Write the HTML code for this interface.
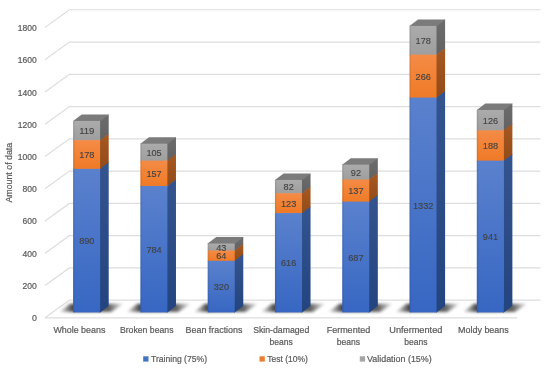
<!DOCTYPE html><html><head><meta charset="utf-8"><style>html,body{margin:0;padding:0;background:#fff;overflow:hidden;width:550px;height:370px}svg{display:block}text{font-family:"Liberation Sans",sans-serif}</style></head><body>
<svg width="550" height="370" viewBox="0 0 550 370">
<defs><filter id="sh" x="-30%" y="-100%" width="160%" height="300%"><feGaussianBlur stdDeviation="1.4"/></filter><linearGradient id="shg" x1="0" x2="1" y1="0" y2="0"><stop offset="0" stop-color="#000" stop-opacity="0.05"/><stop offset="0.22" stop-color="#000" stop-opacity="0.75"/><stop offset="0.77" stop-color="#000" stop-opacity="0.62"/><stop offset="1" stop-color="#000" stop-opacity="0.04"/></linearGradient><linearGradient id="bF" x1="0" x2="0" y1="0" y2="1"><stop offset="0" stop-color="#5a81cd"/><stop offset="1" stop-color="#3767c3"/></linearGradient><linearGradient id="bS" x1="0" x2="0" y1="0" y2="1"><stop offset="0" stop-color="#34548f"/><stop offset="1" stop-color="#24447f"/></linearGradient><linearGradient id="oF" x1="0" x2="0" y1="0" y2="1"><stop offset="0" stop-color="#f48b46"/><stop offset="1" stop-color="#ef7a26"/></linearGradient><linearGradient id="oS" x1="0" x2="0" y1="0" y2="1"><stop offset="0" stop-color="#a65821"/><stop offset="1" stop-color="#924b18"/></linearGradient><linearGradient id="gF" x1="0" x2="0" y1="0" y2="1"><stop offset="0" stop-color="#ababab"/><stop offset="1" stop-color="#9e9e9e"/></linearGradient><linearGradient id="gS" x1="0" x2="0" y1="0" y2="1"><stop offset="0" stop-color="#6c6c6c"/><stop offset="1" stop-color="#626262"/></linearGradient></defs>
<rect width="550" height="370" fill="#fff"/>
<g fill="none" stroke="#dddddd" stroke-width="1.2"><polyline points="45,317.8 69.4,300.2 540.4,300.2"/><polyline points="45,285.53 69.4,267.93 540.4,267.93"/><polyline points="45,253.26 69.4,235.66 540.4,235.66"/><polyline points="45,220.99 69.4,203.39 540.4,203.39"/><polyline points="45,188.72 69.4,171.12 540.4,171.12"/><polyline points="45,156.45 69.4,138.85 540.4,138.85"/><polyline points="45,124.18 69.4,106.58 540.4,106.58"/><polyline points="45,91.91 69.4,74.31 540.4,74.31"/><polyline points="45,59.64 69.4,42.04 540.4,42.04"/><polyline points="45,27.37 69.4,9.77 540.4,9.77"/><line x1="45" y1="317.8" x2="517" y2="317.8"/></g>
<g fill="url(#shg)" filter="url(#sh)"><polygon points="59.1,312.1 111.1,312.1 123.7,303.8 70.1,303.8"/><polygon points="126.38,312.1 178.38,312.1 190.98,303.8 137.38,303.8"/><polygon points="193.66,312.1 245.66,312.1 258.26,303.8 204.66,303.8"/><polygon points="260.94,312.1 312.94,312.1 325.54,303.8 271.94,303.8"/><polygon points="328.22,312.1 380.22,312.1 392.82,303.8 339.22,303.8"/><polygon points="395.5,312.1 447.5,312.1 460.1,303.8 406.5,303.8"/><polygon points="462.78,312.1 514.78,312.1 527.38,303.8 473.78,303.8"/></g>
<g><polygon points="73.1,121.54 73.1,120.94 81.7,114.44 108.7,114.44 108.7,115.04 100.1,121.54" fill="#7b7b7b"/><polygon points="99.5,140.73 100.1,140.73 108.7,134.23 108.7,114.44 100.1,120.94 99.5,120.94" fill="url(#gS)"/><polygon points="99.5,169.44 100.1,169.44 108.7,162.94 108.7,133.63 100.1,140.13 99.5,140.13" fill="url(#oS)"/><polygon points="99.5,312.4 100.1,312.4 108.7,305.9 108.7,162.34 100.1,168.84 99.5,168.84" fill="url(#bS)"/><rect x="73.1" y="120.94" width="27" height="19.79" fill="url(#gF)"/><rect x="73.1" y="140.13" width="27" height="29.31" fill="url(#oF)"/><rect x="73.1" y="168.84" width="27" height="143.56" fill="url(#bF)"/><rect x="73.1" y="120.94" width="1.6" height="191.46" fill="#000" opacity="0.07"/><polygon points="140.38,144.28 140.38,143.68 148.98,137.18 175.98,137.18 175.98,137.78 167.38,144.28" fill="#7b7b7b"/><polygon points="166.78,161.22 167.38,161.22 175.98,154.72 175.98,137.18 167.38,143.68 166.78,143.68" fill="url(#gS)"/><polygon points="166.78,186.54 167.38,186.54 175.98,180.04 175.98,154.12 167.38,160.62 166.78,160.62" fill="url(#oS)"/><polygon points="166.78,312.4 167.38,312.4 175.98,305.9 175.98,179.44 167.38,185.94 166.78,185.94" fill="url(#bS)"/><rect x="140.38" y="143.68" width="27" height="17.54" fill="url(#gF)"/><rect x="140.38" y="160.62" width="27" height="25.92" fill="url(#oF)"/><rect x="140.38" y="185.94" width="27" height="126.46" fill="url(#bF)"/><rect x="140.38" y="143.68" width="1.6" height="168.72" fill="#000" opacity="0.07"/><polygon points="207.66,244.12 207.66,243.52 216.26,237.02 243.26,237.02 243.26,237.62 234.66,244.12" fill="#7b7b7b"/><polygon points="234.06,251.06 234.66,251.06 243.26,244.56 243.26,237.02 234.66,243.52 234.06,243.52" fill="url(#gS)"/><polygon points="234.06,261.38 234.66,261.38 243.26,254.88 243.26,243.96 234.66,250.46 234.06,250.46" fill="url(#oS)"/><polygon points="234.06,312.4 234.66,312.4 243.26,305.9 243.26,254.28 234.66,260.78 234.06,260.78" fill="url(#bS)"/><rect x="207.66" y="243.52" width="27" height="7.54" fill="url(#gF)"/><rect x="207.66" y="250.46" width="27" height="10.92" fill="url(#oF)"/><rect x="207.66" y="260.78" width="27" height="51.62" fill="url(#bF)"/><rect x="207.66" y="243.52" width="1.6" height="68.88" fill="#000" opacity="0.07"/><polygon points="274.94,180.57 274.94,179.97 283.54,173.47 310.54,173.47 310.54,174.07 301.94,180.57" fill="#7b7b7b"/><polygon points="301.34,193.8 301.94,193.8 310.54,187.3 310.54,173.47 301.94,179.97 301.34,179.97" fill="url(#gS)"/><polygon points="301.34,213.64 301.94,213.64 310.54,207.14 310.54,186.7 301.94,193.2 301.34,193.2" fill="url(#oS)"/><polygon points="301.34,312.4 301.94,312.4 310.54,305.9 310.54,206.54 301.94,213.04 301.34,213.04" fill="url(#bS)"/><rect x="274.94" y="179.97" width="27" height="13.83" fill="url(#gF)"/><rect x="274.94" y="193.2" width="27" height="20.44" fill="url(#oF)"/><rect x="274.94" y="213.04" width="27" height="99.36" fill="url(#bF)"/><rect x="274.94" y="179.97" width="1.6" height="132.43" fill="#000" opacity="0.07"/><polygon points="342.22,165.25 342.22,164.65 350.82,158.15 377.82,158.15 377.82,158.75 369.22,165.25" fill="#7b7b7b"/><polygon points="368.62,180.09 369.22,180.09 377.82,173.59 377.82,158.15 369.22,164.65 368.62,164.65" fill="url(#gS)"/><polygon points="368.62,202.19 369.22,202.19 377.82,195.69 377.82,172.99 369.22,179.49 368.62,179.49" fill="url(#oS)"/><polygon points="368.62,312.4 369.22,312.4 377.82,305.9 377.82,195.09 369.22,201.59 368.62,201.59" fill="url(#bS)"/><rect x="342.22" y="164.65" width="27" height="15.44" fill="url(#gF)"/><rect x="342.22" y="179.49" width="27" height="22.7" fill="url(#oF)"/><rect x="342.22" y="201.59" width="27" height="110.81" fill="url(#bF)"/><rect x="342.22" y="164.65" width="1.6" height="147.75" fill="#000" opacity="0.07"/><polygon points="409.5,26.53 409.5,25.93 418.1,19.43 445.1,19.43 445.1,20.03 436.5,26.53" fill="#7b7b7b"/><polygon points="435.9,55.24 436.5,55.24 445.1,48.74 445.1,19.43 436.5,25.93 435.9,25.93" fill="url(#gS)"/><polygon points="435.9,98.15 436.5,98.15 445.1,91.65 445.1,48.14 436.5,54.64 435.9,54.64" fill="url(#oS)"/><polygon points="435.9,312.4 436.5,312.4 445.1,305.9 445.1,91.05 436.5,97.55 435.9,97.55" fill="url(#bS)"/><rect x="409.5" y="25.93" width="27" height="29.31" fill="url(#gF)"/><rect x="409.5" y="54.64" width="27" height="43.51" fill="url(#oF)"/><rect x="409.5" y="97.55" width="27" height="214.85" fill="url(#bF)"/><rect x="409.5" y="25.93" width="1.6" height="286.47" fill="#000" opacity="0.07"/><polygon points="476.78,110.57 476.78,109.97 485.38,103.47 512.38,103.47 512.38,104.07 503.78,110.57" fill="#7b7b7b"/><polygon points="503.18,130.89 503.78,130.89 512.38,124.39 512.38,103.47 503.78,109.97 503.18,109.97" fill="url(#gS)"/><polygon points="503.18,161.22 503.78,161.22 512.38,154.72 512.38,123.79 503.78,130.29 503.18,130.29" fill="url(#oS)"/><polygon points="503.18,312.4 503.78,312.4 512.38,305.9 512.38,154.12 503.78,160.62 503.18,160.62" fill="url(#bS)"/><rect x="476.78" y="109.97" width="27" height="20.92" fill="url(#gF)"/><rect x="476.78" y="130.29" width="27" height="30.92" fill="url(#oF)"/><rect x="476.78" y="160.62" width="27" height="151.78" fill="url(#bF)"/><rect x="476.78" y="109.97" width="1.6" height="202.43" fill="#000" opacity="0.07"/></g>
<g fill="#404040" stroke="#404040" stroke-width="0.12" font-size="9.8" text-anchor="middle"><text x="86.8" y="244.22" textLength="15.299999999999999" lengthAdjust="spacingAndGlyphs">890</text><text x="86.8" y="158.09" textLength="15.299999999999999" lengthAdjust="spacingAndGlyphs">178</text><text x="86.8" y="134.13" textLength="15.299999999999999" lengthAdjust="spacingAndGlyphs">119</text><text x="154.08" y="252.77" textLength="15.299999999999999" lengthAdjust="spacingAndGlyphs">784</text><text x="154.08" y="176.88" textLength="15.299999999999999" lengthAdjust="spacingAndGlyphs">157</text><text x="154.08" y="155.75" textLength="15.299999999999999" lengthAdjust="spacingAndGlyphs">105</text><text x="221.36" y="290.19" textLength="15.299999999999999" lengthAdjust="spacingAndGlyphs">320</text><text x="221.36" y="259.22" textLength="10.2" lengthAdjust="spacingAndGlyphs">64</text><text x="221.36" y="250.59" textLength="10.2" lengthAdjust="spacingAndGlyphs">43</text><text x="288.64" y="266.32" textLength="15.299999999999999" lengthAdjust="spacingAndGlyphs">616</text><text x="288.64" y="206.72" textLength="15.299999999999999" lengthAdjust="spacingAndGlyphs">123</text><text x="288.64" y="190.19" textLength="10.2" lengthAdjust="spacingAndGlyphs">82</text><text x="355.92" y="260.59" textLength="15.299999999999999" lengthAdjust="spacingAndGlyphs">687</text><text x="355.92" y="194.14" textLength="15.299999999999999" lengthAdjust="spacingAndGlyphs">137</text><text x="355.92" y="175.67" textLength="10.2" lengthAdjust="spacingAndGlyphs">92</text><text x="423.2" y="208.57" textLength="20.4" lengthAdjust="spacingAndGlyphs">1332</text><text x="423.2" y="79.7" textLength="15.299999999999999" lengthAdjust="spacingAndGlyphs">266</text><text x="423.2" y="43.89" textLength="15.299999999999999" lengthAdjust="spacingAndGlyphs">178</text><text x="490.48" y="240.11" textLength="15.299999999999999" lengthAdjust="spacingAndGlyphs">941</text><text x="490.48" y="149.05" textLength="15.299999999999999" lengthAdjust="spacingAndGlyphs">188</text><text x="490.48" y="123.73" textLength="15.299999999999999" lengthAdjust="spacingAndGlyphs">126</text></g>
<g fill="#595959" stroke="#595959" stroke-width="0.2" font-size="8.8" text-anchor="end"><text x="36.8" y="320.9" textLength="4.9" lengthAdjust="spacingAndGlyphs">0</text><text x="36.8" y="288.71" textLength="14.3" lengthAdjust="spacingAndGlyphs">200</text><text x="36.8" y="256.52" textLength="14.3" lengthAdjust="spacingAndGlyphs">400</text><text x="36.8" y="224.33" textLength="14.3" lengthAdjust="spacingAndGlyphs">600</text><text x="36.8" y="192.14" textLength="14.3" lengthAdjust="spacingAndGlyphs">800</text><text x="36.8" y="159.95" textLength="19.0" lengthAdjust="spacingAndGlyphs">1000</text><text x="36.8" y="127.76" textLength="19.0" lengthAdjust="spacingAndGlyphs">1200</text><text x="36.8" y="95.57" textLength="19.0" lengthAdjust="spacingAndGlyphs">1400</text><text x="36.8" y="63.38" textLength="19.0" lengthAdjust="spacingAndGlyphs">1600</text><text x="36.8" y="31.19" textLength="19.0" lengthAdjust="spacingAndGlyphs">1800</text></g>
<g fill="#595959" stroke="#595959" stroke-width="0.2" font-size="8.8" text-anchor="middle"><text x="79.4" y="332.7" textLength="52.0" lengthAdjust="spacingAndGlyphs">Whole beans</text><text x="146.7" y="332.7" textLength="53.6" lengthAdjust="spacingAndGlyphs">Broken beans</text><text x="214" y="332.7" textLength="56.9" lengthAdjust="spacingAndGlyphs">Bean fractions</text><text x="281.2" y="332.7" textLength="56.1" lengthAdjust="spacingAndGlyphs">Skin-damaged</text><text x="281.2" y="345" textLength="23.299999999999997" lengthAdjust="spacingAndGlyphs">beans</text><text x="348.4" y="332.7" textLength="43.5" lengthAdjust="spacingAndGlyphs">Fermented</text><text x="348.4" y="345" textLength="23.299999999999997" lengthAdjust="spacingAndGlyphs">beans</text><text x="415.8" y="332.7" textLength="53.1" lengthAdjust="spacingAndGlyphs">Unfermented</text><text x="415.8" y="345" textLength="23.299999999999997" lengthAdjust="spacingAndGlyphs">beans</text><text x="483.4" y="332.7" textLength="50.8" lengthAdjust="spacingAndGlyphs">Moldy beans</text></g>
<g fill="#595959" stroke="#595959" stroke-width="0.2" font-size="8.8"><rect x="143.2" y="356.3" width="5.3" height="5.3" fill="#4472c4" stroke="none"/><text x="151.0" y="361.7" textLength="56" lengthAdjust="spacingAndGlyphs">Training (75%)</text><rect x="259.5" y="356.3" width="5.3" height="5.3" fill="#ed7d31" stroke="none"/><text x="267.3" y="361.7" textLength="40.5" lengthAdjust="spacingAndGlyphs">Test (10%)</text><rect x="359.8" y="356.3" width="5.3" height="5.3" fill="#a5a5a5" stroke="none"/><text x="367.0" y="361.7" textLength="64.7" lengthAdjust="spacingAndGlyphs">Validation (15%)</text></g>
<text transform="translate(12.4,172.7) rotate(-90)" fill="#595959" stroke="#595959" stroke-width="0.2" font-size="8.8" text-anchor="middle" textLength="59.8" lengthAdjust="spacingAndGlyphs">Amount of data</text>
</svg></body></html>
